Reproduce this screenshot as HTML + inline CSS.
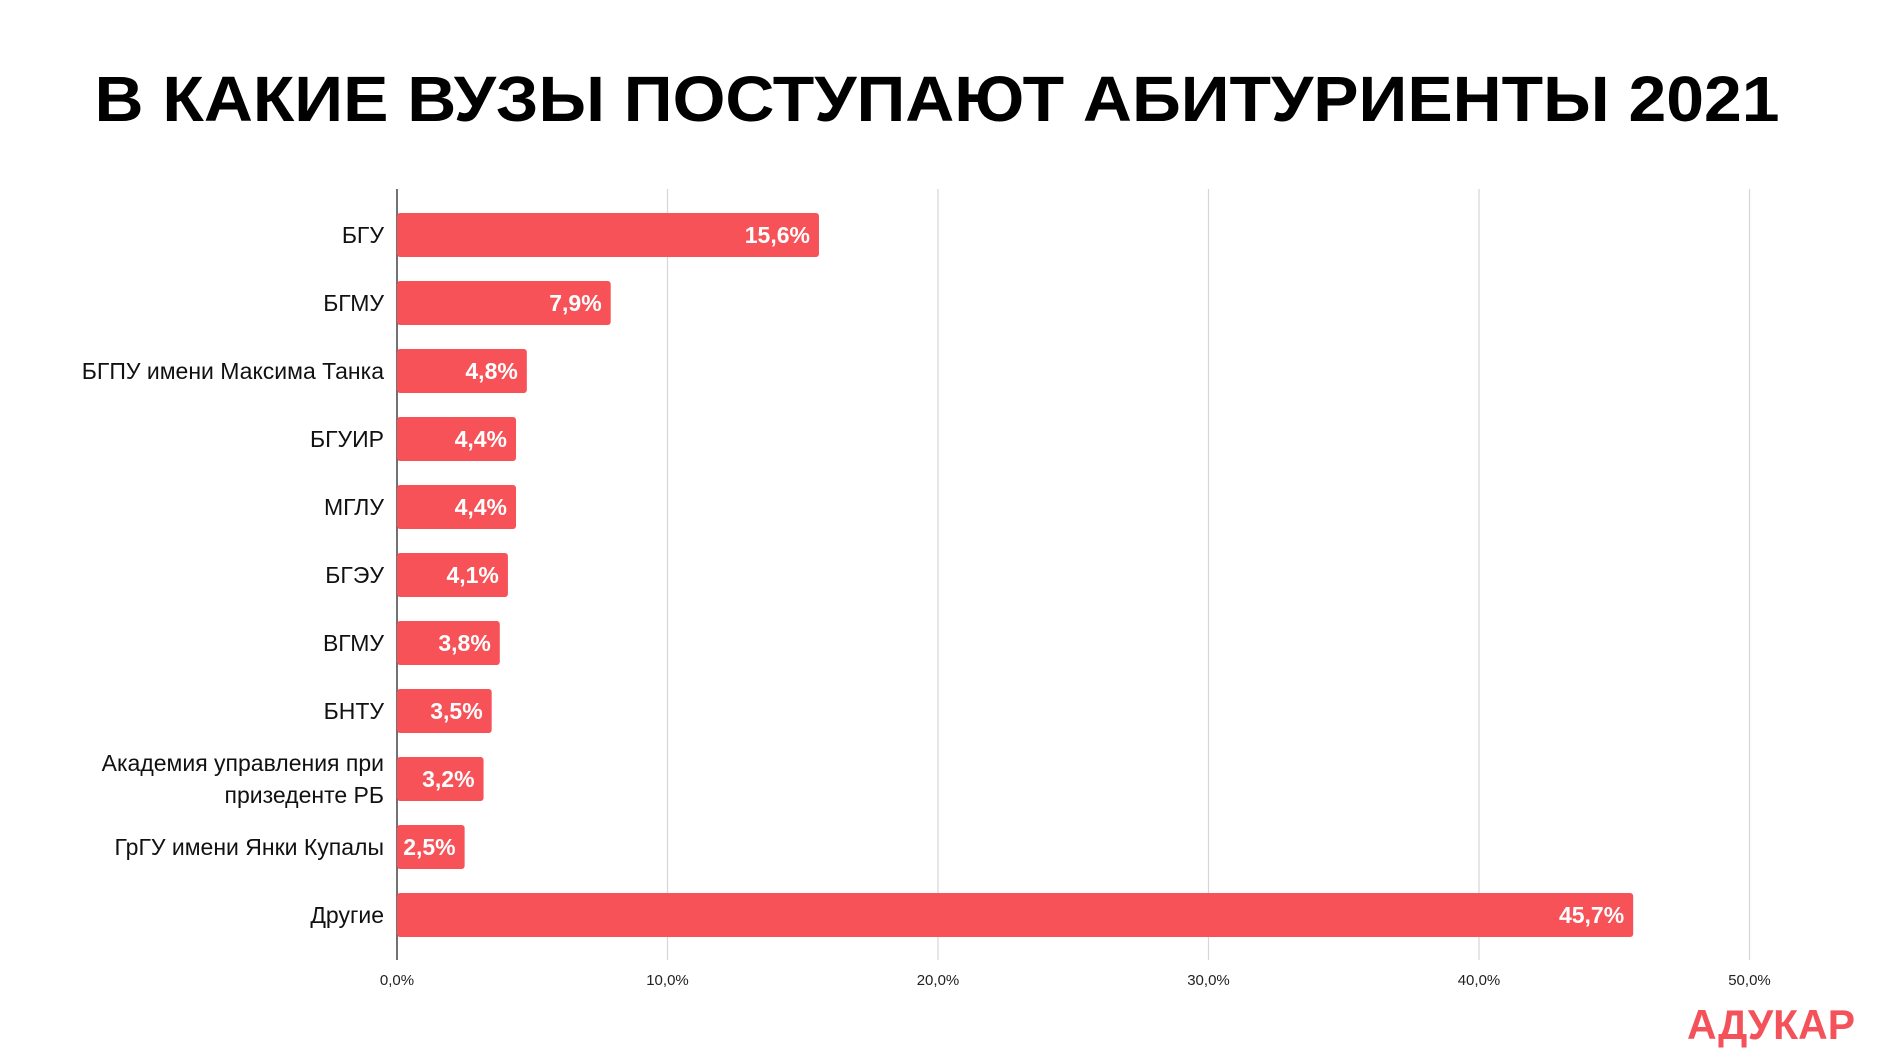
<!DOCTYPE html>
<html><head><meta charset="utf-8"><style>
html,body{margin:0;padding:0;background:#fff;}
svg{display:block;font-family:"Liberation Sans",sans-serif;}
</style></head><body>
<svg id="chart" width="1880" height="1060" viewBox="0 0 1880 1060" xmlns="http://www.w3.org/2000/svg">
<text x="937" y="121" text-anchor="middle" font-size="64" font-weight="bold" fill="#000" textLength="1685" lengthAdjust="spacingAndGlyphs" style="font-family:'Liberation Sans',sans-serif">В КАКИЕ ВУЗЫ ПОСТУПАЮТ АБИТУРИЕНТЫ 2021</text>
<g id="grid"></g><g id="bars"></g><g id="labels"></g><g id="ticks"></g>
<text x="1855" y="1039" text-anchor="end" font-size="42" font-weight="bold" fill="#f4525a" textLength="168" lengthAdjust="spacingAndGlyphs">АДУКАР</text>
</svg>
<script>
const categories = ["БГУ","БГМУ","БГПУ имени Максима Танка","БГУИР","МГЛУ","БГЭУ","ВГМУ","БНТУ","Академия управления при|призеденте РБ","ГрГУ имени Янки Купалы","Другие"];
const values = [15.6,7.9,4.8,4.4,4.4,4.1,3.8,3.5,3.2,2.5,45.7];
const valueLabels = ["15,6%","7,9%","4,8%","4,4%","4,4%","4,1%","3,8%","3,5%","3,2%","2,5%","45,7%"];
const tickValues = [0,10,20,30,40,50];
const tickLabels = ["0,0%","10,0%","20,0%","30,0%","40,0%","50,0%"];

const NS="http://www.w3.org/2000/svg";
const x0=397, pxPer=27.05, top0=213, step=68, barH=44;
const xs=v=>x0+v*pxPer;
const ys=i=>top0+i*step;
function mk(tag,attrs,parent){const e=document.createElementNS(NS,tag);for(const k in attrs)e.setAttribute(k,attrs[k]);document.getElementById(parent).appendChild(e);return e;}
tickValues.forEach((t,i)=>{
  const g=mk("line",{x1:xs(t),x2:xs(t),y1:189,y2:960,stroke:i===0?"#444":"#d6d6d6","stroke-width":i===0?1.5:1.2},"grid");
  
  
  const tl=mk("text",{x:xs(t),y:985,"text-anchor":"middle","font-size":15,fill:"#222"},"ticks");
  tl.textContent=tickLabels[i];
  
  
});
categories.forEach((c,i)=>{
  const r=mk("rect",{x:x0,y:ys(i),width:xs(values[i])-x0,height:barH,rx:3,fill:"#f65257"},"bars");
  
  
  const v=mk("text",{x:xs(values[i])-9,y:ys(i)+barH/2+8,"text-anchor":"end","font-size":23,"font-weight":"bold",fill:"#fff"},"bars");
  v.textContent=valueLabels[i];
  
  
  const parts=c.split("|");
  const cy=ys(i)+barH/2+8;
  parts.forEach((p,j)=>{
    const t=mk("text",{x:384,y:cy+(j-(parts.length-1)/2)*32,"text-anchor":"end","font-size":23,fill:"#111"},"labels");
    t.textContent=p;
    
    
  });
});
</script>
</body></html>
